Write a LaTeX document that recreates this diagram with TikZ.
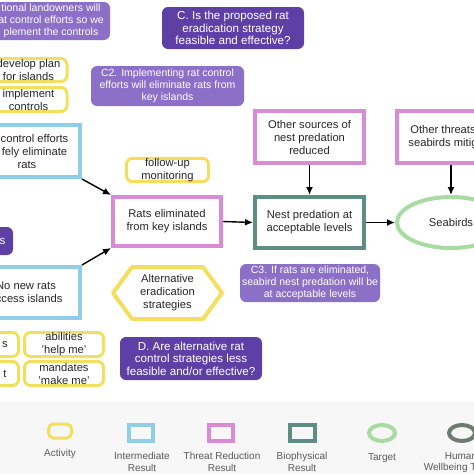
\documentclass[tikz,border=0pt]{standalone}
\usepackage{fontspec}
\setmainfont{Liberation Sans}
\usetikzlibrary{shapes.geometric,arrows.meta}
\definecolor{actyellow}{HTML}{F2DF5E}
\definecolor{intblue}{HTML}{92CDE8}
\definecolor{thrpink}{HTML}{D98BD6}
\definecolor{biogreen}{HTML}{5E8E83}
\definecolor{targreen}{HTML}{A8DBA2}
\definecolor{hwgray}{HTML}{6E7B73}
\definecolor{midpurple}{HTML}{8C70C8}
\definecolor{darkpurple}{HTML}{5D3FA6}
\definecolor{legendgray}{HTML}{F7F7F7}
\newcommand{\boxfont}{\fontsize{11.2}{13}\selectfont}
\newcommand{\notefont}{\fontsize{10.5}{12}\selectfont}
\newcommand{\quesfont}{\fontsize{11.6}{12.5}\selectfont}
\newcommand{\legfont}{\fontsize{10}{11.5}\selectfont}
\tikzset{
  basebox/.style={align=center, inner sep=0pt, font=\boxfont, text=black!85},
  activity/.style={basebox, draw=actyellow, line width=3pt, rounded corners=6pt},
  interm/.style={basebox, draw=intblue, line width=4pt},
  threat/.style={basebox, draw=thrpink, line width=4pt},
  biophys/.style={basebox, draw=biogreen, line width=4pt},
  target/.style={basebox, ellipse, draw=targreen, line width=4pt},
  assumption/.style={align=center, inner sep=0pt, font=\notefont, text=white, fill=midpurple, rounded corners=6pt},
  question/.style={assumption, fill=darkpurple, font=\quesfont},
  arr/.style={-{Latex[length=8pt,width=7pt]}, line width=1.4pt},
  leglabel/.style={font=\legfont, text=black!65, align=center, anchor=north}
}

\begin{document}
\begin{tikzpicture}[x=1pt,y=-1pt]
\useasboundingbox (0,0) rectangle (474,474);
\clip (0,0) rectangle (474,474);
\fill[legendgray] (0,402) rectangle (474,474);

\node[assumption, minimum width=118pt, minimum height=38pt] (landown) at (51,21) {tional landowners will\\at control efforts so we\\plement the controls};
\node[question, minimum width=142pt, minimum height=42pt] (quesC) at (233,28) {C. Is the proposed rat\\eradication strategy\\feasible and effective?};
\node[assumption, minimum width=153pt, minimum height=40pt] (assC2) at (167.5,86) {C2. Implementing rat control\\efforts will eliminate rats from\\key islands};
\node[activity, minimum width=77pt, minimum height=23pt] (plan) at (28.5,70) {develop plan\\for islands};
\node[activity, minimum width=77pt, minimum height=24pt] (implem) at (28.5,99.5) {implement\\controls};
\node[interm, minimum width=91pt, minimum height=52pt] (safely) at (34.5,151) {control efforts\\fely eliminate\\rats\hspace*{15pt}};
\node[activity, minimum width=82pt, minimum height=23pt] (monitor) at (167.5,170) {follow-up\\monitoring};
\node[threat, minimum width=108pt, minimum height=49pt] (rats) at (167,221.5) {Rats eliminated\\from key islands};
\node[question, minimum width=21pt, minimum height=28pt] (quesB) at (2.5,241) {s};
\node[interm, minimum width=108pt, minimum height=51pt] (norats) at (26,292.5) {No new rats\\access islands};
\node[basebox] (altern) at (167.5,293) {Alternative\\eradication\\strategies};
\draw[draw=actyellow, line width=4pt, line join=round] (113,293) -- (132,267) -- (203,267) -- (222,293) -- (203,319) -- (132,319) -- cycle;
\node[activity, minimum width=27pt, minimum height=24pt] (motiv) at (5,344.5) {s};
\node[activity, minimum width=27pt, minimum height=24pt] (rules) at (5,373.5) {t};
\node[activity, minimum width=79pt, minimum height=24pt] (abilit) at (64,344.5) {abilities\\'help me'};
\node[activity, minimum width=79pt, minimum height=24pt] (mandat) at (64,373.5) {mandates\\'make me'};
\node[assumption, minimum width=140pt, minimum height=38pt] (assC3) at (310,283) {C3. If rats are eliminated,\\seabird nest predation will be\\at acceptable levels};
\node[question, minimum width=142pt, minimum height=43pt] (quesD) at (191,358.5) {D. Are alternative rat\\control strategies less\\feasible and/or effective?};
\node[threat, minimum width=109pt, minimum height=52pt] (othsrc) at (309.5,137) {Other sources of\\nest predation\\reduced};
\node[biophys, minimum width=109pt, minimum height=51pt] (nest) at (309.5,222.5) {Nest predation at\\acceptable levels};
\node[threat, minimum width=92pt, minimum height=52pt] (oththr) at (443,137) {Other threats\\seabirds mitig};
\node[target, minimum width=108pt, minimum height=51pt] (seab) at (451,222.5) {Seabirds};

\draw[arr] (safely.south east) -- (rats.north west);
\draw[arr] (norats.north east) -- (rats.south west);
\draw[arr] (rats.east) -- (nest.west);
\draw[arr] (nest.east) -- (seab.west);
\draw[arr] (othsrc.south) -- (nest.north);
\draw[arr] (oththr.south -| seab.north) -- (seab.north);

\node[activity, minimum width=23pt, minimum height=14pt, rounded corners=5pt] (legact) at (60,431) {};
\node[interm, minimum width=24pt, minimum height=16pt] (legint) at (141,433) {};
\node[threat, minimum width=24pt, minimum height=16pt] (legthr) at (221,433) {};
\node[biophys, minimum width=25pt, minimum height=16pt] (legbio) at (302,433) {};
\node[target, minimum width=26pt, minimum height=16pt] (legtar) at (382,433) {};
\node[target, draw=hwgray, minimum width=26pt, minimum height=16pt] (leghum) at (462,433) {};
\node[leglabel] (legactl) at (60,446) {Activity};
\node[leglabel] (legintl) at (142,449) {Intermediate\\Result};
\node[leglabel] (legthrl) at (222,449) {Threat Reduction\\Result};
\node[leglabel] (legbiol) at (302,449) {Biophysical\\Result};
\node[leglabel] (legtarl) at (382,450) {Target};
\node[leglabel] (leghuml) at (461,449) {Human\\Wellbeing Target};
\end{tikzpicture}
\end{document}
